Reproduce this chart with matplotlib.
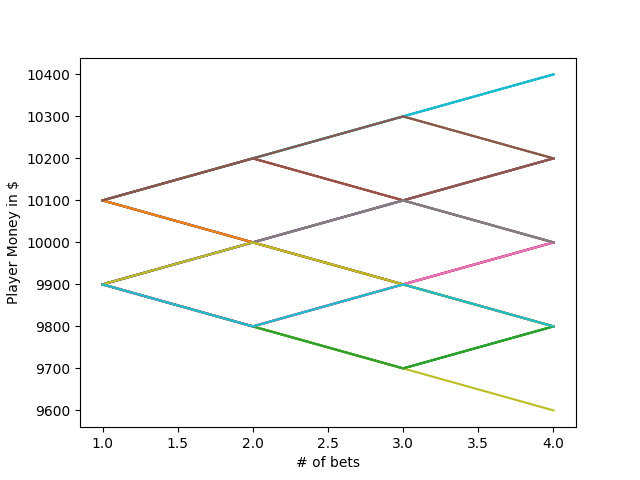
import matplotlib
matplotlib.use("Agg")
import matplotlib.pyplot as plt

bets = [1, 2, 3, 4]

# money after each bet, one list per player (drawn in this order)
players = [
    [10100, 10200, 10300, 10400],
    [10100, 10000, 9900, 9800],
    [9900, 9800, 9700, 9800],
    [10100, 10200, 10100, 10200],
    [9900, 10000, 10100, 10200],
    [9900, 10000, 9900, 10000],
    [10100, 10000, 10100, 10000],
    [9900, 9800, 9900, 9800],
    [10100, 10200, 10300, 10200],
    [10100, 10200, 10300, 10400],

    [9900, 10000, 10100, 10200],
    [10100, 10000, 9900, 10000],
    [9900, 9800, 9700, 9800],
    [10100, 10200, 10100, 10000],
    [9900, 10000, 10100, 10200],
    [10100, 10000, 10100, 10200],
    [9900, 9800, 9900, 10000],
    [10100, 10200, 10300, 10200],
    [9900, 10000, 10100, 10000],
    [10100, 10200, 10300, 10400],

    [10100, 10000, 9900, 9800],
    [10100, 10000, 10100, 10200],
    [9900, 9800, 9700, 9800],
    [9900, 10000, 9900, 10000],
    [9900, 10000, 10100, 10000],
    [10100, 10200, 10300, 10200],
    [9900, 9800, 9900, 10000],
    [9900, 10000, 10100, 10000],
    [9900, 9800, 9700, 9600],
    [9900, 9800, 9900, 9800],

    [10100, 10000, 9900, 9800],
    [10100, 10000, 9900, 9800],
    [9900, 9800, 9700, 9800],
    [9900, 9800, 9900, 10000],
    [9900, 10000, 10100, 10200],
    [10100, 10200, 10100, 10200],
    [9900, 9800, 9900, 10000],
    [9900, 10000, 10100, 10000],
    [9900, 10000, 9900, 9800],
    [9900, 9800, 9900, 9800],
]


def main():
    fig, ax = plt.subplots(figsize=(6.4, 4.8), dpi=100)
    for money in players:
        ax.plot(bets, money)
    ax.set_xlabel('# of bets')
    ax.set_ylabel('Player Money in $')
    fig.savefig('out.png')


if __name__ == '__main__':
    main()
